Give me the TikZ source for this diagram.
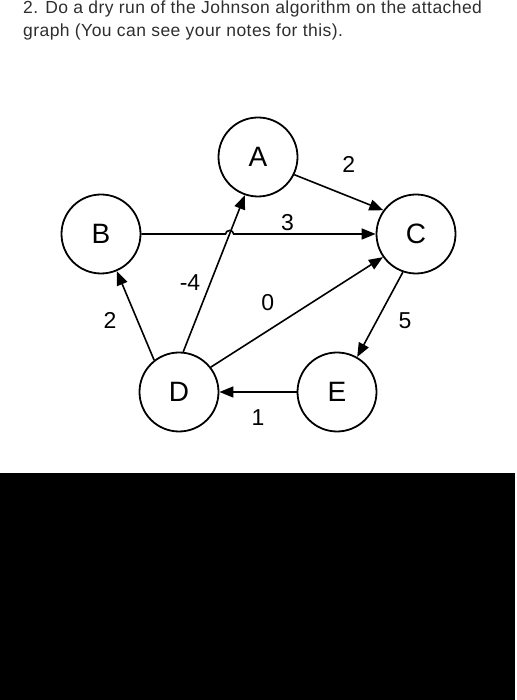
\documentclass[tikz,border=0pt]{standalone}
\usepackage{fontspec}
\setmainfont{Liberation Sans}
\newfontfamily\qfont[LetterSpace=2.5]{Liberation Sans}
\usetikzlibrary{arrows.meta,positioning}
\definecolor{prose}{HTML}{2E2E2E}

\begin{document}
\begin{tikzpicture}[x=1pt,y=1pt,on grid,vtx/.style={circle,draw,line width=1.8pt,minimum size=79pt,inner sep=0pt,font=\fontsize{28}{30}\selectfont},arr/.style={-{Triangle[length=14pt,width=11pt]},line width=1.6pt},wt/.style={font=\fontsize{23}{25}\selectfont,inner sep=0pt},ask/.style={anchor=base west,inner sep=0pt,text=prose,font=\qfont\fontsize{17.5}{20}\selectfont}]
\useasboundingbox (0,0) rectangle (516,700);
\node[ask] (q1) at (23,686) {2. Do a dry run of the Johnson algorithm on the attached};
\node[ask] (q2) at (23,663.5) {graph (You can see your notes for this).};
\node[vtx] (b) at (101,466) {B};
\node[vtx,right=315pt of b] (c) {C};
\node[vtx,above right=77pt and 157pt of b] (a) {A};
\node[vtx,below right=158pt and 78pt of b] (d) {D};
\node[vtx,right=158pt of d] (e) {E};
\coordinate (hop) at (intersection of d.84--a.251 and b.east--c.west);
\draw[arr] (a.334)--node[wt,xshift=10pt,yshift=28pt]{2}(c.144);
\draw[arr] (b)--([xshift=-4pt]hop) arc[start angle=180,end angle=0,x radius=4pt,y radius=3.5pt]--node[wt,pos=.38,yshift=11pt]{3}(c);
\draw[arr] (d.84)--node[wt,xshift=-24pt,yshift=-9.5pt]{-4}(a.251);
\draw[arr] (d.38)--node[wt,xshift=-29pt,yshift=10pt]{0}(c.215);
\draw[arr] (d.128)--node[wt,xshift=-25.5pt,yshift=-4.5pt]{2}(b.293);
\draw[arr] (c.251)--node[wt,xshift=25pt,yshift=-6pt]{5}(e.60);
\draw[arr] (e)--node[wt,yshift=-26pt]{1}(d);
\fill (0,0) rectangle (515,227);
\end{tikzpicture}
\end{document}
